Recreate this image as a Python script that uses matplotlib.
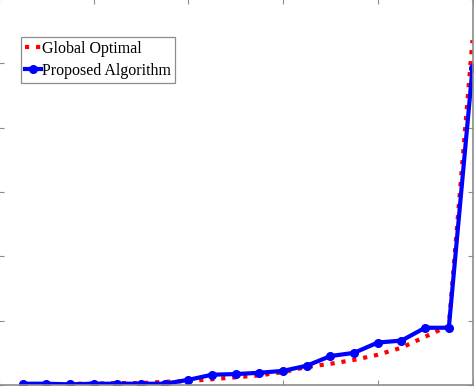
import numpy as np
import matplotlib
matplotlib.use("Agg")
import matplotlib.pyplot as plt

# Data (y in tick units, ticks hidden)
x = np.arange(1, 21)
global_optimal = [0.0, 0.0, 0.02, 0.02, 0.03, 0.03, 0.05, 0.06, 0.09, 0.12,
                  0.15, 0.20, 0.28, 0.33, 0.39, 0.47, 0.58, 0.75, 0.92, 5.36]
proposed = [0.02, 0.02, 0.01, 0.02, 0.02, 0.02, 0.02, 0.08, 0.16, 0.17,
            0.19, 0.22, 0.30, 0.45, 0.50, 0.66, 0.69, 0.89, 0.89, 4.92]
series_names = ['Global Optimal', 'Proposed Algorithm']

W, H = 474, 387
fig = plt.figure(figsize=(W / 100, H / 100), dpi=100)
# the reference is a crop, left and top spines lie just outside
ax = fig.add_axes([-1 / W, 2 / H, 473.5 / W, 386 / H])

ax.plot(x, global_optimal, color='#ff0000', linestyle=':', linewidth=3.0,
        label=series_names[0])
ax.plot(x, proposed, color='#0000ff', linestyle='-', linewidth=3.0,
        marker='o', markersize=5.5, label=series_names[1])

ax.set_xlim(0, 20)
ax.set_ylim(0, 6)
ax.set_xticks(np.arange(0, 21, 4))
ax.set_yticks(np.arange(0, 7, 1))
ax.tick_params(direction='in', length=3.6, width=0.8, color='#8c8c8c',
               top=True, right=True, labelbottom=False, labelleft=False)
for s in ax.spines.values():
    s.set_color('#8c8c8c')
    s.set_linewidth(1.2)

leg = ax.legend(loc='upper left', bbox_to_anchor=(21 / W, 1 - 37 / H),
                bbox_transform=fig.transFigure, borderaxespad=0,
                prop={'family': 'Liberation Serif', 'size': 11.5},
                handlelength=1.0, handletextpad=0.05, borderpad=0.25,
                labelspacing=0.35, fancybox=False, framealpha=1)
leg.get_frame().set_edgecolor('#8c8c8c')
leg.get_frame().set_linewidth(0.9)

fig.savefig('out.png', dpi=100)
